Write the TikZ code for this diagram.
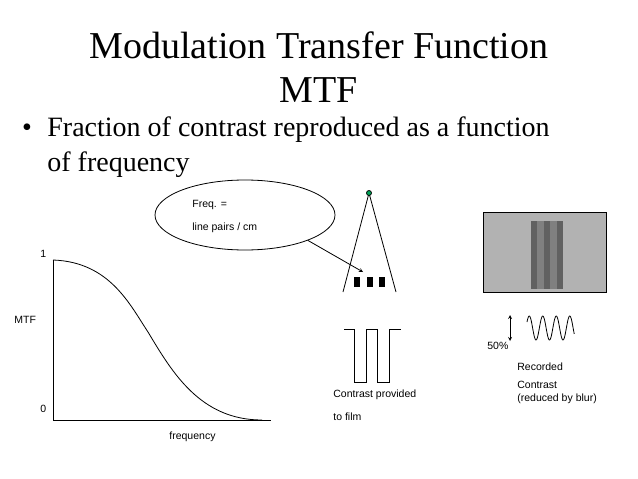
\documentclass[tikz,border=0pt]{standalone}
\usepackage{fontspec}
\setmainfont{Liberation Serif}
\setsansfont{Liberation Sans}
\usetikzlibrary{arrows,shapes.geometric}

\begin{document}
\begin{tikzpicture}[x=1pt, y=-1pt, >=stealth, line width=0.8pt,
  small/.style={font=\sffamily\fontsize{10.5}{12}\selectfont, anchor=west, inner sep=0pt},
  bar/.style={fill=black}]
  \useasboundingbox (0,0) rectangle (638,479);
  % Title and bullet
  \node (title1) at (319,45) {\fontsize{38}{42}\selectfont Modulation Transfer Function};
  \node (title2) at (319,90) {\fontsize{38}{42}\selectfont MTF};
  \node (dot) at (27,130) {\fontsize{28}{32}\selectfont •};
  \node (line1) [anchor=west, inner sep=0pt] at (47,130) {\fontsize{28}{32}\selectfont Fraction of contrast reproduced as a function};
  \node (line2) [anchor=west, inner sep=0pt] at (47,165) {\fontsize{28}{32}\selectfont of frequency};

  % MTF plot
  \coordinate (top) at (53,260);
  \coordinate (orig) at (53,420);
  \coordinate (end) at (271,420);
  \draw (top) -- (orig) -- (end);
  \draw (top) .. controls (110,262) and (130,305) .. (148,332)
              .. controls (172,372) and (200,420) .. (262,420);
  \node (one) [small] at (40,254) {1};
  \node (zero) [small] at (40,409) {0};
  \node (mtf) [small] at (14,320) {MTF};
  \node (freq) [small] at (169,437) {frequency};

  % Callout
  \node (bubble) [draw, ellipse, minimum width=180pt, minimum height=70pt] at (245,215) {};
  \node (fq) [small] at (192,205) {Freq. =};
  \node (lp) [small] at (192,228) {line pairs / cm};

  % Light cone and bars
  \coordinate (apex) at (369,193);
  \draw (343,292) -- (apex) -- (396,292);
  \fill[teal!70!green] (apex) circle (2.5pt);
  \draw (apex) circle (2.5pt);
  \foreach \x in {354,367,379}
    \fill[bar] (\x,277) rectangle ++(6,10);
  \coordinate (hit) at (363,272);
  \draw[->] (bubble.-22) -- (hit);

  % Square wave
  \draw (344,329) -- (354,329) -- (354,382) -- (366,382) -- (366,329) -- (377,329)
        -- (377,382) -- (389,382) -- (389,329) -- (401,329);
  \node (cp) [small] at (333,395) {Contrast provided};
  \node (tf) [small] at (333,417) {to film};

  % Recorded image
  \draw[fill=black!30] (483,212) rectangle (606,292);
  \fill[black!50] (531,221) rectangle (563,289);
  \foreach \x in {531,544,557}
    \fill[black!62] (\x,221) rectangle ++(6,68);
  \coordinate (ua) at (510,315);
  \coordinate (da) at (510,341);
  \draw[<->] (ua) -- (da);
  \draw[domain=0:3.5, samples=120, smooth, variable=\t]
    plot ({527+13.5*\t}, {328-12*sin(\t*360+30)});
  \node (pc) [small] at (487,346) {50\%};
  \node (rec) [small] at (517,367) {Recorded};
  \node (con) [small] at (517,385) {Contrast};
  \node (blur) [small] at (517,399) {(reduced by blur)};
\end{tikzpicture}
\end{document}
